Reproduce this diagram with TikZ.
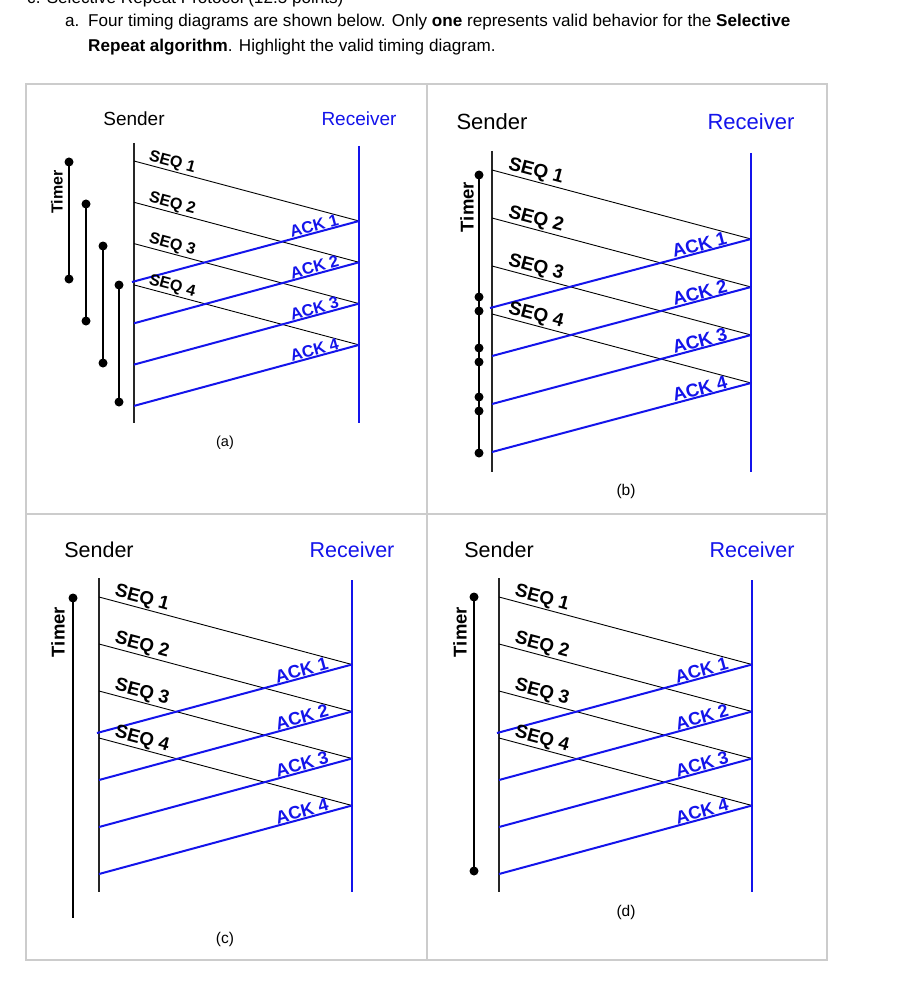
\documentclass[tikz,border=0pt]{standalone}
\usepackage{fontspec}
\setmainfont{Liberation Sans}
\definecolor{ackblue}{RGB}{20,20,235}
\definecolor{framegray}{RGB}{204,204,204}
\def\hdrsize{\fontsize{19}{19}\selectfont}
\def\seqsize{\fontsize{16}{16}\selectfont}
\def\acksize{\fontsize{16.5}{16.5}\selectfont}
\def\tmrsize{\fontsize{16}{16}\selectfont}
\def\capsize{\fontsize{14.5}{14.5}\selectfont}
\tikzset{
  frameline/.style={draw=framegray, line width=2pt},
  senderline/.style={draw=black!85, line width=2pt},
  recvline/.style={draw=ackblue, line width=2pt},
  seqline/.style={draw=black, line width=0.9pt},
  ackline/.style={draw=ackblue, line width=2pt},
  timerline/.style={draw=black, line width=2pt},
  tdot/.style={circle, fill=black, inner sep=0pt, minimum size=9pt},
  hdr/.style={inner sep=0pt, font=\hdrsize},
  seqlbl/.style={sloped, anchor=south, inner sep=1pt, font=\bfseries\seqsize},
  acklbl/.style={sloped, anchor=south, inner sep=1pt, text=ackblue, font=\bfseries\acksize},
  tmrlbl/.style={rotate=90, inner sep=0pt, font=\bfseries\tmrsize},
  caplbl/.style={inner sep=0pt, font=\capsize},
  txt/.style={anchor=base west, inner sep=0pt, font=\fontsize{17.1}{17.1}\selectfont},
}
\newcommand\drawpanel[1]{%
  \coordinate (#1-st) at (\pSX,\pTop);
  \coordinate (#1-sb) at (\pSX,\pBot);
  \coordinate (#1-rt) at (\pRX,\pRTop);
  \coordinate (#1-rb) at (\pRX,\pBot);
  \node[hdr] (#1-snd) at (\pSX,\pHdrY) {Sender};
  \node[hdr, text=ackblue] (#1-rcv) at (\pRX,\pHdrY) {Receiver};
  \draw[senderline] (#1-st) -- (#1-sb);
  \draw[recvline] (#1-rt) -- (#1-rb);
  \foreach \i in {1,...,4}{%
    \pgfmathsetmacro\ys{\pYz+(\i-1)*\pSp}%
    \pgfmathsetmacro\yh{\ys+\pDrop}%
    \pgfmathsetmacro\ya{\yh+\pRise}%
    \pgfmathsetmacro\xa{\pSX-(\i==1)*2}%
    \coordinate (#1-s\i) at (\pSX,\ys);
    \coordinate (#1-h\i) at (\pRX,\yh);
    \coordinate (#1-a\i) at (\xa,\ya);
  }
  \foreach \i in {1,...,4}{\draw[seqline] (#1-s\i) -- (#1-h\i);}
  \foreach \i in {1,...,4}{\draw[ackline] (#1-h\i) -- (#1-a\i);}
  \foreach \i in {1,...,4}{%
    \path (#1-s\i) -- node[seqlbl, pos=0.16] (#1-sl\i) {SEQ \i} (#1-h\i);
    \path (#1-h\i) -- node[acklbl, pos=0.19] (#1-al\i) {ACK \i} (#1-a\i);
  }
}
\begin{document}
\begin{tikzpicture}[x=1pt,y=-1pt]
\useasboundingbox (0,0) rectangle (898,1008);
\clip (0,0) rectangle (898,1008);
\fill[white] (0,0) rectangle (898,1008);
% heading text
\node[txt] (h0) at (27,4) {c. Selective Repeat Protocol (12.5 points)};
\node[txt] (h1a) at (65,27) {a.};
\node[txt] (h1) at (88,27) {Four timing diagrams are shown below. Only \textbf{one} represents valid behavior for the \textbf{Selective}};
\node[txt] (h2) at (88,52) {\textbf{Repeat algorithm}. Highlight the valid timing diagram.};
% frame
\draw[frameline] (26,84) rectangle (827,960);
\draw[frameline] (427,84) -- (427,960);
\draw[frameline] (26,514) -- (827,514);
% ---------- panel (a)
\def\pSX{134}\def\pRX{359}\def\pTop{143}\def\pRTop{146}\def\pBot{423}
\def\pHdrY{119}\def\pYz{161}\def\pSp{41.3}\def\pDrop{60}\def\pRise{61}
\drawpanel{a}
\node[tmrlbl] (a-tl) at (57,192) {Timer};
\foreach \n/\x/\ya/\yb in {1/69/162/279, 2/86/204/321, 3/103/246/363, 4/119/285/402}{%
  \node[tdot] (a-t\n t) at (\x,\ya) {};
  \node[tdot] (a-t\n b) at (\x,\yb) {};
  \draw[timerline] (a-t\n t.center) -- (a-t\n b.center);
}
\node[caplbl] (a-cap) at (225,443) {(a)};
% ---------- panel (b)
\def\hdrsize{\fontsize{22}{22}\selectfont}
\def\seqsize{\fontsize{19}{19}\selectfont}
\def\acksize{\fontsize{18.5}{18.5}\selectfont}
\def\tmrsize{\fontsize{18.5}{18.5}\selectfont}
\def\capsize{\fontsize{15.5}{15.5}\selectfont}
\def\pSX{492}\def\pRX{751}\def\pTop{151}\def\pRTop{153}\def\pBot{472}
\def\pHdrY{122}\def\pYz{170}\def\pSp{48}\def\pDrop{69}\def\pRise{69}
\drawpanel{b}
\node[tmrlbl] (b-tl) at (467,207) {Timer};
\node[tdot] (b-d1) at (479,175) {};
\node[tdot] (b-d2) at (479,297) {};
\node[tdot] (b-d3) at (479,311) {};
\node[tdot] (b-d4) at (479,348) {};
\node[tdot] (b-d5) at (479,362) {};
\node[tdot] (b-d6) at (479,397) {};
\node[tdot] (b-d7) at (479,411) {};
\node[tdot] (b-d8) at (479,453) {};
\draw[timerline] (b-d1.center) -- (b-d8.center);
\node[caplbl] (b-cap) at (626,491) {(b)};
% ---------- panel (c)
\def\hdrsize{\fontsize{21.5}{21.5}\selectfont}
\def\seqsize{\fontsize{18.7}{18.7}\selectfont}
\def\acksize{\fontsize{18}{18}\selectfont}
\def\pSX{99}\def\pRX{352}\def\pTop{578}\def\pRTop{580}\def\pBot{892}
\def\pHdrY{550}\def\pYz{597}\def\pSp{47}\def\pDrop{67.5}\def\pRise{68.5}
\drawpanel{c}
\node[tmrlbl] (c-tl) at (58,632) {Timer};
\node[tdot] (c-d1) at (73,598) {};
\coordinate (c-d2) at (73,918);
\draw[timerline] (c-d1.center) -- (c-d2);
\node[caplbl] (c-cap) at (225,939) {(c)};
% ---------- panel (d)
\def\pSX{499}\def\pRX{752}
\drawpanel{d}
\node[tmrlbl] (d-tl) at (460,632) {Timer};
\node[tdot] (d-d1) at (474,597) {};
\node[tdot] (d-d2) at (474,871) {};
\draw[timerline] (d-d1.center) -- (d-d2.center);
\node[caplbl] (d-cap) at (626,912) {(d)};
\end{tikzpicture}
\end{document}
